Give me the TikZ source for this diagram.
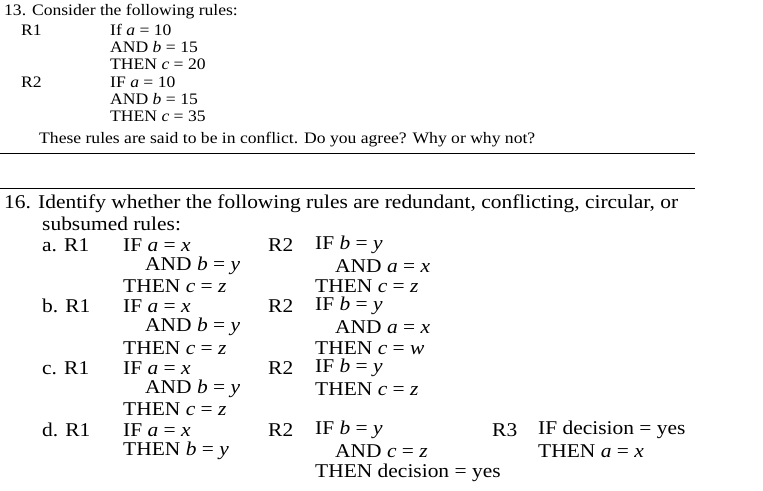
\documentclass[tikz,border=0pt]{standalone}
\usepackage{fontspec}
\setmainfont{Liberation Serif}
\newfontfamily\wideserif[FakeStretch=1.1]{Liberation Serif}
\newcommand{\vi}[1]{\textit{#1}}
\begin{document}
\begin{tikzpicture}[x=1pt,y=-1pt,
  s/.style={anchor=west,inner sep=0pt,font=\wideserif\fontsize{16}{17}\selectfont},
  b/.style={anchor=west,inner sep=0pt,font=\wideserif\fontsize{19.5}{21}\selectfont}]
\useasboundingbox (0,0) rectangle (763,490);
\node[s] (t1) at (4,12) {13. Consider the following rules:};
\node[s] (t2) at (21,30) {R1};
\node[s] (t3) at (110,30) {If \vi{a} = 10};
\node[s] (t4) at (110,47) {AND \vi{b} = 15};
\node[s] (t5) at (110,64) {THEN \vi{c} = 20};
\node[s] (t6) at (21,82) {R2};
\node[s] (t7) at (110,82) {IF \vi{a} = 10};
\node[s] (t8) at (110,99) {AND \vi{b} = 15};
\node[s] (t9) at (110,116) {THEN \vi{c} = 35};
\node[s] (t10) at (39,140) {These rules are said to be in conflict. Do you agree? Why or why not?};
\coordinate (l1a) at (0,153); \coordinate (l1b) at (695,153);
\coordinate (l2a) at (0,188); \coordinate (l2b) at (695,188);
\draw[line width=1pt] (l1a) -- (l1b);
\draw[line width=1pt] (l2a) -- (l2b);
\node[b] (u1) at (4,204) {16. Identify whether the following rules are redundant, conflicting, circular, or};
\node[b] (u2) at (42,224) {subsumed rules:};
% a
\node[b] (a0) at (42,245) {a. R1};
\node[b] (a1) at (123,245) {IF \vi{a} = \vi{x}};
\node[b] (a2) at (145,266) {AND \vi{b} = \vi{y}};
\node[b] (a3) at (123,286) {THEN \vi{c} = \vi{z}};
\node[b] (a4) at (268,245) {R2};
\node[b] (a5) at (315,245) {IF \vi{b} = \vi{y}};
\node[b] (a6) at (335,266) {AND \vi{a} = \vi{x}};
\node[b] (a7) at (315,286) {THEN \vi{c} = \vi{z}};
% b
\node[b] (b0) at (42,306) {b. R1};
\node[b] (b1) at (123,306) {IF \vi{a} = \vi{x}};
\node[b] (b2) at (145,327) {AND \vi{b} = \vi{y}};
\node[b] (b3) at (123,348) {THEN \vi{c} = \vi{z}};
\node[b] (b4) at (268,306) {R2};
\node[b] (b5) at (315,306) {IF \vi{b} = \vi{y}};
\node[b] (b6) at (335,327) {AND \vi{a} = \vi{x}};
\node[b] (b7) at (315,348) {THEN \vi{c} = \vi{w}};
% c
\node[b] (c0) at (42,368) {c. R1};
\node[b] (c1) at (123,368) {IF \vi{a} = \vi{x}};
\node[b] (c2) at (145,389) {AND \vi{b} = \vi{y}};
\node[b] (c3) at (123,409) {THEN \vi{c} = \vi{z}};
\node[b] (c4) at (268,368) {R2};
\node[b] (c5) at (315,368) {IF \vi{b} = \vi{y}};
\node[b] (c6) at (315,389) {THEN \vi{c} = \vi{z}};
% d
\node[b] (d0) at (42,430) {d. R1};
\node[b] (d1) at (123,430) {IF \vi{a} = \vi{x}};
\node[b] (d2) at (123,451) {THEN \vi{b} = \vi{y}};
\node[b] (d4) at (268,430) {R2};
\node[b] (d5) at (315,430) {IF \vi{b} = \vi{y}};
\node[b] (d6) at (335,451) {AND \vi{c} = \vi{z}};
\node[b] (d7) at (315,473) {THEN decision = yes};
\node[b] (d8) at (492,430) {R3};
\node[b] (d9) at (538,430) {IF decision = yes};
\node[b] (d10) at (538,451) {THEN \vi{a} = \vi{x}};
\end{tikzpicture}
\end{document}
